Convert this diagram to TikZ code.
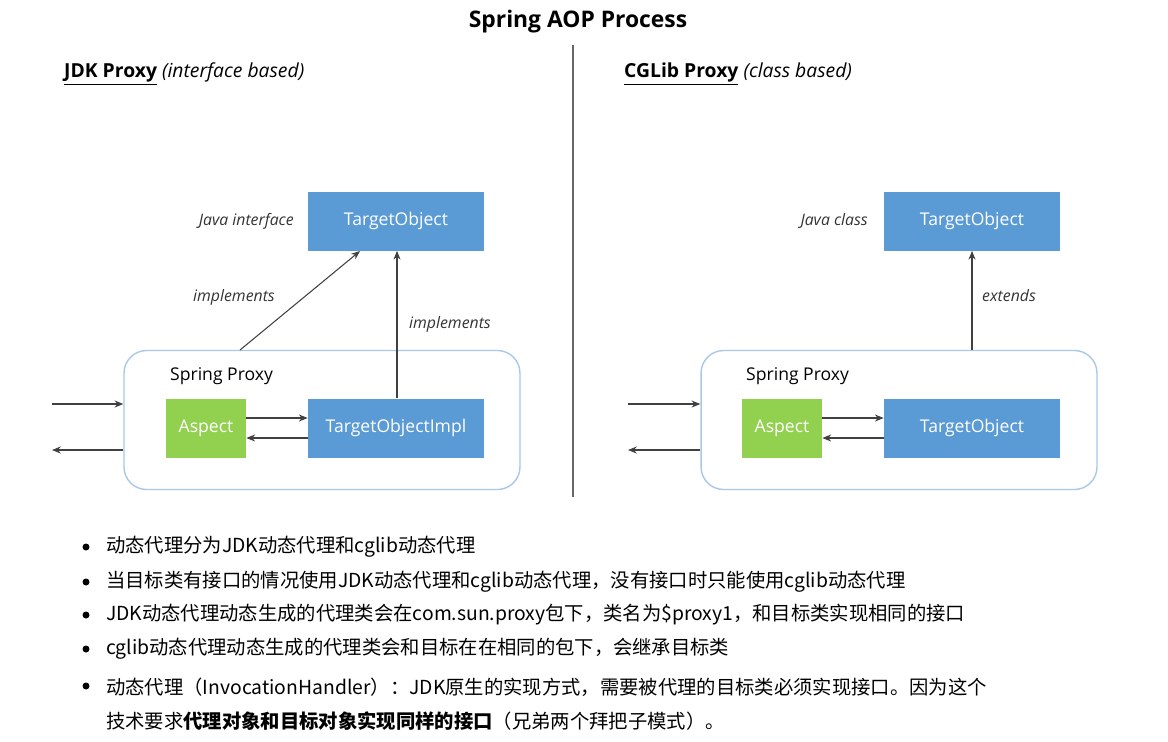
\documentclass[tikz,border=0pt]{standalone}
\usepackage{fontspec}
\setmainfont{Open Sans}
\newfontfamily\cjk{Noto Sans CJK SC}
\usetikzlibrary{arrows.meta}
\definecolor{boxblue}{HTML}{5B9BD5}
\definecolor{boxgreen}{HTML}{92D050}
\definecolor{proxyline}{HTML}{A9C8E8}
\begin{document}
\begin{tikzpicture}[x=0.02cm,y=-0.02cm,
  box/.style={draw=none,fill=boxblue,text=white,minimum width=3.52cm,minimum height=1.18cm,inner sep=0pt,font=\fontsize{10pt}{12pt}\selectfont},
  asp/.style={box,fill=boxgreen,minimum width=1.6cm},
  proxy/.style={draw=proxyline,line width=0.8pt,rounded corners=0.45cm,minimum width=7.92cm,minimum height=2.78cm,inner sep=0pt},
  lbl/.style={font=\fontsize{9pt}{11pt}\selectfont\itshape,text=black!80},
  arr/.style={-{Stealth[length=5pt,width=4pt]},line width=0.6pt,black!75},
  bul/.style={anchor=west,font=\cjk\fontsize{11pt}{19pt}\selectfont,align=left}]
\useasboundingbox (0,0) rectangle (1168,741);
\node[font=\fontsize{13pt}{15pt}\selectfont\bfseries] (title) at (578,22) {Spring AOP Process};
\draw[black!60,line width=0.6pt] (573,45) -- (573,497);
% left: JDK proxy
\node[anchor=west,font=\fontsize{11pt}{13pt}\selectfont] (hl) at (58,74) {\underline{\textbf{JDK Proxy}} \textit{(interface based)}};
\node[box] (lt) at (396,221) {TargetObject};
\node[lbl,anchor=east] (li) at (300,221) {Java interface};
\node[proxy] (lp) at (322,420) {};
\node[anchor=west,font=\fontsize{10pt}{12pt}\selectfont] (lps) at (164,376) {Spring Proxy};
\node[asp] (la) at (206,428) {Aspect};
\node[box] (limpl) at (396,428) {TargetObjectImpl};
\draw[arr] ([yshift=0.2cm]la.east) -- ([yshift=0.2cm]limpl.west);
\draw[arr] ([yshift=-0.2cm]limpl.west) -- ([yshift=-0.2cm]la.east);
\coordinate (lpin) at (240,350);
\coordinate (ltin) at (360,251);
\draw[arr] (lpin) -- (ltin);
\node[lbl] (lim1) at (234,297) {implements};
\draw[arr] (limpl.north -| 397,0) -- (lt.south -| 397,0);
\node[lbl] (lim2) at (450,324) {implements};
\coordinate (lin) at (52,404);
\coordinate (lout) at (52,450);
\draw[arr] (lin) -- (lin -| lp.west);
\draw[arr] (lout -| lp.west) -- (lout);
% right: CGLib proxy
\node[anchor=west,font=\fontsize{11pt}{13pt}\selectfont] (hr) at (618,74) {\underline{\textbf{CGLib Proxy}} \textit{(class based)}};
\node[box] (rt) at (972,221) {TargetObject};
\node[lbl,anchor=east] (rc) at (874,221) {Java class};
\node[proxy] (rp) at (899,420) {};
\node[anchor=west,font=\fontsize{10pt}{12pt}\selectfont] (rps) at (740,376) {Spring Proxy};
\node[asp] (ra) at (782,428) {Aspect};
\node[box] (rto) at (972,428) {TargetObject};
\draw[arr] ([yshift=0.2cm]ra.east) -- ([yshift=0.2cm]rto.west);
\draw[arr] ([yshift=-0.2cm]rto.west) -- ([yshift=-0.2cm]ra.east);
\draw[arr] (rp.north -| rt.south) -- (rt.south);
\node[lbl] (rext) at (1009,296) {extends};
\coordinate (rin) at (628,404);
\coordinate (rout) at (628,450);
\draw[arr] (rin) -- (rin -| rp.west);
\draw[arr] (rout -| rp.west) -- (rout);
% bullets
\foreach \yy in {547,582,615,649,686} \fill (86,\yy) circle (0.07cm);
\node[bul] (b1) at (100,547) {动态代理分为JDK动态代理和cglib动态代理};
\node[bul] (b2) at (100,582) {当目标类有接口的情况使用JDK动态代理和cglib动态代理，没有接口时只能使用cglib动态代理};
\node[bul] (b3) at (100,615) {JDK动态代理动态生成的代理类会在com.sun.proxy包下，类名为\$proxy1，和目标类实现相同的接口};
\node[bul] (b4) at (100,649) {cglib动态代理动态生成的代理类会和目标在在相同的包下，会继承目标类};
\node[bul,anchor=north west] (b5) at (100,672) {动态代理（InvocationHandler）：JDK原生的实现方式，需要被代理的目标类必须实现接口。因为这个\\技术要求\textbf{代理对象和目标对象实现同样的接口}（兄弟两个拜把子模式）。};
\end{tikzpicture}
\end{document}
